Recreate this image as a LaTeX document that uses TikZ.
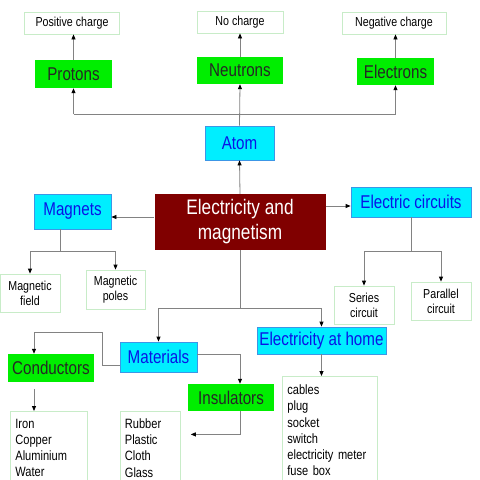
\documentclass[tikz,border=0pt]{standalone}
\usepackage{fontspec}
\setmainfont[FakeStretch=0.82]{Liberation Sans}
\usepackage{xcolor}
\usetikzlibrary{arrows.meta, calc}

\definecolor{boxgreen}{RGB}{0,238,0}
\definecolor{boxcyan}{RGB}{0,238,255}
\definecolor{cyanedge}{RGB}{60,150,230}
\definecolor{titleblue}{RGB}{10,20,230}
\definecolor{maroon}{RGB}{128,0,0}
\definecolor{paleedge}{RGB}{200,236,200}
\definecolor{linegray}{RGB}{130,130,130}
\newcommand{\tightspace}{\spaceskip=0.23em\relax}

\begin{document}
\begin{tikzpicture}[
    x=1pt, y=-1pt,
    base/.style={rectangle, inner sep=0pt, align=center},
    mainbox/.style={base, fill=maroon, text=white, minimum width=171pt, minimum height=56pt, font=\fontsize{21}{25}\selectfont\tightspace},
    cyanbox/.style={base, fill=boxcyan, draw=cyanedge, line width=0.8pt, text=titleblue, font=\fontsize{18.5}{22}\selectfont\tightspace},
    greenbox/.style={base, fill=boxgreen, text=black!85, font=\fontsize{18.5}{22}\selectfont\tightspace},
    notebox/.style={base, fill=white, draw=paleedge, line width=0.8pt, font=\fontsize{13}{15}\selectfont\tightspace},
    listbox/.style={notebox, align=left, anchor=north west, inner xsep=5pt, font=\fontsize{13.5}{16.2}\selectfont\tightspace},
    line/.style={draw=linegray, line width=0.8pt},
    arr/.style={line, -{Triangle[length=5pt, width=4pt, color=black]}}
]
\fill[white] (0,0) rectangle (480,480);
\useasboundingbox (0,0) rectangle (480,480);

% Nodes
\node[notebox, minimum width=95pt, minimum height=22pt] (poscharge) at (72,23) {Positive charge};
\node[notebox, minimum width=86pt, minimum height=22pt] (nocharge) at (240,22) {No charge};
\node[notebox, minimum width=104pt, minimum height=22pt] (negcharge) at (394,23) {Negative charge};
\node[greenbox, minimum width=77pt, minimum height=28pt] (protons) at (73.5,74) {Protons};
\node[greenbox, minimum width=86pt, minimum height=27pt] (neutrons) at (240,70.5) {Neutrons};
\node[greenbox, minimum width=77pt, minimum height=27pt] (electrons) at (395.5,71.5) {Electrons};
\node[cyanbox, minimum width=69pt, minimum height=34pt] (atom) at (239.5,143) {Atom};
\node[mainbox] (main) at (240,222) {Electricity and\\magnetism};
\node[cyanbox, minimum width=77pt, minimum height=35pt] (magnets) at (72.5,211.5) {Magnets};
\node[cyanbox, minimum width=120pt, minimum height=30pt] (circuits) at (411,202) {Electric circuits};
\node[notebox, minimum width=60pt, minimum height=38pt] (magfield) at (30,293) {Magnetic\\field};
\node[notebox, minimum width=59pt, minimum height=39pt] (magpoles) at (115.5,289.5) {Magnetic\\poles};
\node[notebox, minimum width=60pt, minimum height=38pt] (series) at (364,305) {Series\\circuit};
\node[notebox, minimum width=60pt, minimum height=38pt] (parallel) at (441,301) {Parallel\\circuit};
\node[cyanbox, minimum width=77pt, minimum height=30pt] (materials) at (158.5,357) {Materials};
\node[cyanbox, minimum width=129pt, minimum height=27pt] (home) at (321.5,340.5) {Electricity at home};
\node[greenbox, minimum width=86pt, minimum height=28pt] (conductors) at (51,368) {Conductors};
\node[greenbox, minimum width=86pt, minimum height=27pt] (insulators) at (231,397.5) {Insulators};
\node[listbox, text width=67pt, minimum height=73pt] (condlist) at (10,411) {Iron\\Copper\\Aluminium\\Water};
\node[listbox, text width=51pt, inner xsep=4.5pt, minimum height=73pt] (insullist) at (120,411) {Rubber\\Plastic\\Cloth\\Glass};
\node[listbox, text width=85pt, minimum height=108pt] (homelist) at (282,376) {cables\\plug\\socket\\switch\\electricity meter\\fuse box};

\coordinate (atomfork) at (240,114);
\coordinate (magfork) at (60,251);
\coordinate (circfork) at (411,251);
\coordinate (mainfork) at (240,308);

% Connections
\draw[arr] (protons.north) -- (protons.north |- poscharge.south);
\draw[arr] (neutrons.north) -- (neutrons.north |- nocharge.south);
\draw[arr] (electrons.north) -- (electrons.north |- negcharge.south);
\draw[arr] (atom.north) -- (neutrons.south);
\draw[line] (atomfork -| protons) -- (atomfork -| electrons);
\draw[arr] (atomfork -| protons) -- (protons.south);
\draw[arr] (atomfork -| electrons) -- (electrons.south);
\draw[arr] (main.north) -- (atom.south);
\draw[arr] ([yshift=5pt]main.west) -- ([yshift=5pt]main.west -| magnets.east);
\draw[arr] ([yshift=-4pt]circuits.west -| main.east) -- ([yshift=-4pt]circuits.west);
\draw[line] (magnets.south -| magfork) -- (magfork);
\draw[line] (magfork -| magfield) -- (magfork -| magpoles);
\draw[arr] (magfork -| magfield) -- (magfield.north);
\draw[arr] (magfork -| magpoles) -- (magpoles.north);
\draw[line] (circuits.south) -- (circfork);
\draw[line] (circfork -| series) -- (circfork -| parallel);
\draw[arr] (circfork -| series) -- (series.north);
\draw[arr] (circfork -| parallel) -- (parallel.north);
\draw[line] (main.south) -- (mainfork);
\draw[line] (mainfork -| materials) -- (mainfork -| home);
\draw[arr] (mainfork -| materials) -- (materials.north);
\draw[arr] (mainfork -| home) -- (home.north);
\draw[arr] (home.south) -- (home.south |- homelist.north);
\draw[arr] ([yshift=-8pt]materials.west) -| ([xshift=-17pt,yshift=25pt]materials.west) -| ([xshift=-17pt]conductors.north);
\draw[arr, shorten <=7pt] ([xshift=-17pt]conductors.south) -- ([xshift=-17pt]conductors.south |- condlist.north);
\draw[arr] ([yshift=3pt]materials.east) -| ([xshift=9pt]insulators.north);
\draw[arr, shorten >=10pt] ([xshift=9pt]insulators.south) |- ([yshift=13.5pt]insullist.east);

\end{tikzpicture}
\end{document}
